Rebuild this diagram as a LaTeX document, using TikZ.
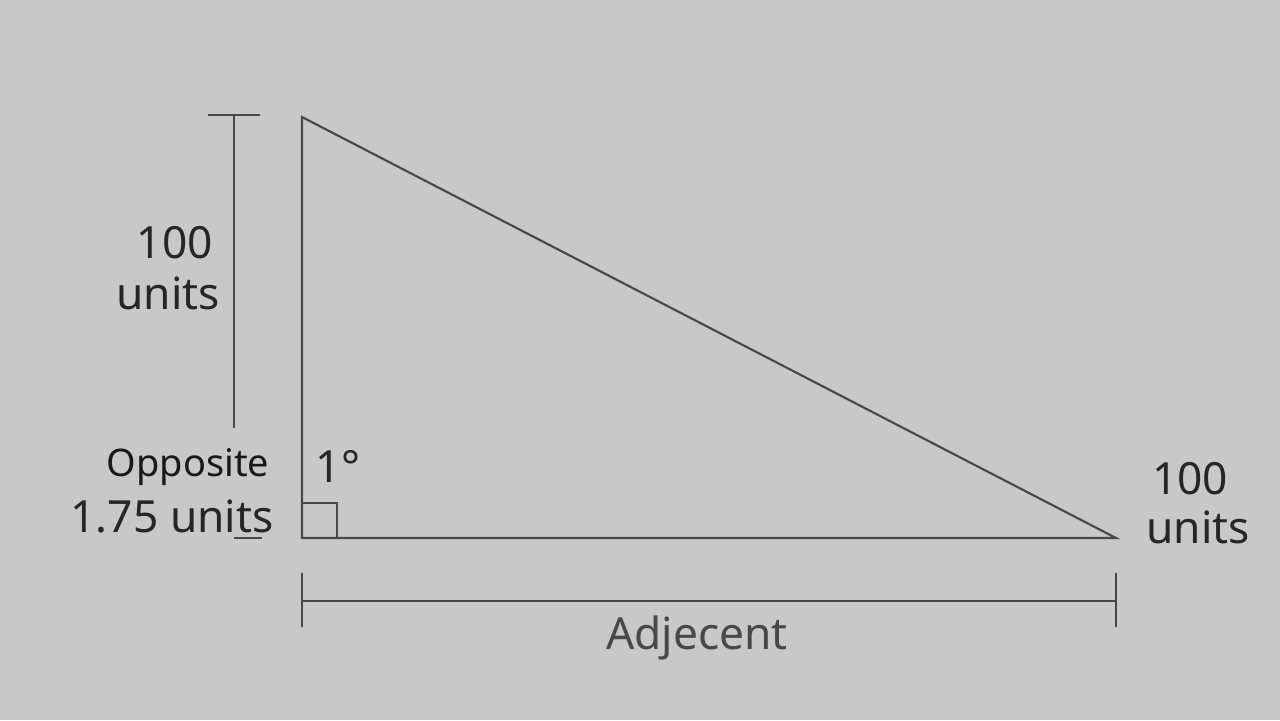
\documentclass[tikz,border=0pt]{standalone}
\usepackage{fontspec}
\setmainfont{Noto Sans}
\definecolor{bg}{RGB}{200,200,200}
\definecolor{ln}{RGB}{72,72,72}
\definecolor{tx}{RGB}{38,38,38}
\begin{document}
\begin{tikzpicture}[x=0.01cm,y=-0.01cm,
  edge/.style={draw=ln,line width=0.6pt},
  lbl/.style={text=tx,inner sep=0pt,font=\fontsize{12.6}{15}\selectfont,align=center},
  small/.style={text=black!90,inner sep=0pt,font=\fontsize{10.8}{13}\selectfont}]
\fill[bg] (0,0) rectangle (1280,720);
\useasboundingbox (0,0) rectangle (1280,720);
% triangle
\coordinate (A) at (302,117);
\coordinate (B) at (302,538);
\coordinate (C) at (1116,538);
\draw[edge,line join=miter] (A) -- (B) -- (C) -- cycle;
% right angle mark
\coordinate (r1) at (302,503);
\coordinate (r2) at (337,503);
\coordinate (r3) at (337,538);
\draw[edge] (r1) -- (r2) -- (r3);
% left dimension
\coordinate (lt1) at (208,115);
\coordinate (lt2) at (260,115);
\coordinate (lv1) at (234,115);
\coordinate (lv2) at (234,428);
\draw[edge] (lt1) -- (lt2);
\draw[edge] (lv1) -- (lv2);
\coordinate (u1) at (234,538);
\coordinate (u2) at (262,538);
\draw[edge] (u1) -- (u2);
% bottom dimension
\coordinate (bt1) at (302,573);
\coordinate (bb1) at (302,627);
\coordinate (bt2) at (1116,573);
\coordinate (bb2) at (1116,627);
\coordinate (bh1) at (302,601);
\coordinate (bh2) at (1116,601);
\draw[edge] (bt1) -- (bb1);
\draw[edge] (bt2) -- (bb2);
\draw[edge] (bh1) -- (bh2);
% labels
\node[lbl] (h100) at (175,243) {100};
\node[lbl] (hunits) at (168,293) {units};
\node[small] (opp) at (188,467) {Opposite};
\node[lbl] (oppu) at (172,516) {1.75 units};
\node[lbl] (ang) at (338,466) {1°};
\node[lbl] (r100) at (1190,479) {100};
\node[lbl] (runits) at (1198,527) {units};
\node[lbl,text=ln] (adj) at (697,638) {Adjecent};
\end{tikzpicture}
\end{document}
